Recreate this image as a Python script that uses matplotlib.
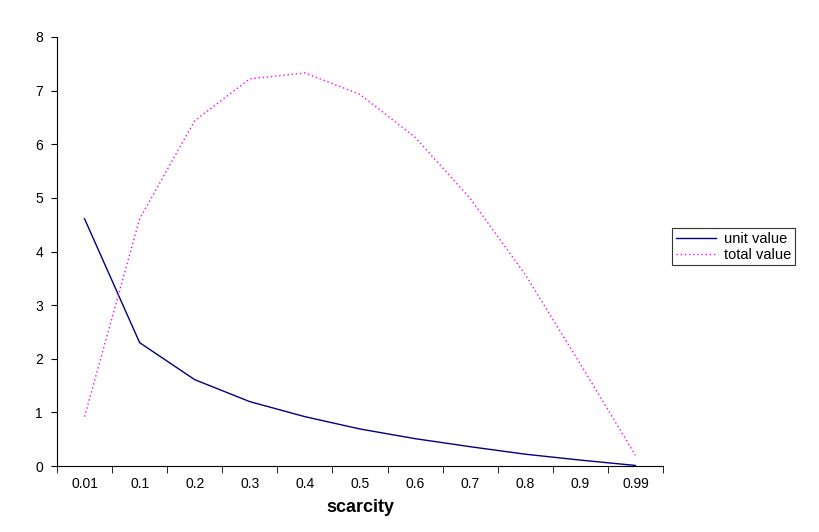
import matplotlib
matplotlib.use("Agg")
import matplotlib.pyplot as plt
import numpy as np

plt.rcParams['font.family'] = ['Liberation Sans', 'DejaVu Sans']

categories = ["0.01","0.1","0.2","0.3","0.4","0.5","0.6","0.7","0.8","0.9","0.99"]
unit_value = [4.61,2.30,1.61,1.20,0.92,0.69,0.51,0.36,0.22,0.11,0.01]
total_value = [0.92,4.61,6.44,7.22,7.33,6.93,6.13,4.99,3.57,1.90,0.20]

fig = plt.figure(figsize=(8.19,5.32), dpi=100)
ax = fig.add_axes([57/819, 66/532, (663-57)/819, (466-37)/532])
x = np.arange(len(categories))
ax.plot(x, unit_value, color="#000080", lw=1, label="unit value")
ax.plot(x, total_value, color="#FF00FF", lw=1, ls=(0,(1,2)), label="total value")
ax.set_xlim(-0.5, len(categories)-0.5)
ax.set_ylim(0, 8)
ax.set_yticks(range(0, 9))
ax.set_xticks(x)
ax.set_xticklabels(categories)
ax.set_xticks(np.arange(-0.5, len(categories)), minor=True)
ax.tick_params(axis="x", which="major", length=0, labelsize=10, pad=8)
ax.tick_params(axis="x", which="minor", length=5, direction="out")
ax.tick_params(axis="y", length=4, direction="out", labelsize=10, pad=6)
for s in ["top","right"]:
    ax.spines[s].set_visible(False)
ax.set_xlabel("scarcity", fontsize=13, fontweight="bold", labelpad=6)
leg = fig.legend(loc="upper left", bbox_to_anchor=(672/819, 1-228/532), frameon=True,
                 fancybox=False, edgecolor="black", fontsize=10.5, borderaxespad=0,
                 handlelength=2.8, handletextpad=0.5, borderpad=0.25, labelspacing=0.15)
leg.get_frame().set_linewidth(0.8)
fig.savefig("out.png", dpi=100)
